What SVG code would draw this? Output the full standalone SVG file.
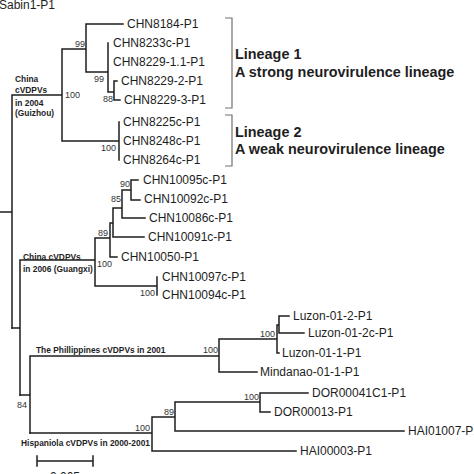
<svg xmlns="http://www.w3.org/2000/svg" width="474" height="474" viewBox="0 0 474 474">
<style>
.e{fill:none;stroke:#1e1e1e;stroke-width:1.5;stroke-linecap:square}
.br{fill:none;stroke:#707070;stroke-width:1.2}
.t{font-family:"Liberation Sans",Arial,sans-serif;font-size:12px;fill:#1e1e1e}
.b{font-family:"Liberation Sans",Arial,sans-serif;font-size:9px;fill:#333}
.bs{font-family:"Liberation Sans",Arial,sans-serif;font-size:9px;fill:#333;text-anchor:end}
.c{font-family:"Liberation Sans",Arial,sans-serif;font-size:8.4px;font-weight:bold;fill:#1e1e1e}
.L{font-family:"Liberation Sans",Arial,sans-serif;font-size:14.4px;font-weight:bold;fill:#1e1e1e}
</style>
<rect width="474" height="474" fill="#fff"/>
<g id="connectors">
<path class="e" d="M0,212H12M12,95V328M12,95H62M62,49V141M62,49H86M86,24V72M86,24H123M86,72H108M108,43V92M108,92H114M114,81V100M114,81H117M114,100H120M62,141H119M119,122V160"/>
<path class="e" d="M12,328H20M20,260V395M20,260H95M95,238V286M95,238H110M110,223V257M110,257H117M110,223H113M113,208V237M113,237H144M113,208H122M122,190V218M122,218H145M122,190H131M131,180V200M131,180H138M131,200H140M95,286H157M157,277V295"/>
<path class="e" d="M20,395H30M30,356V433M30,356H219M219,339V372M219,372H257M219,339H277M277,325V353M277,353H279M277,325H279M279,316V333M279,316H289M279,333H304"/>
<path class="e" d="M30,433H152M152,417V451M152,451H296M152,417H175M175,402V431M175,431H404M175,402H260M260,393V412M260,393H308M260,412H270"/>
<path class="e" d="M37,461H93M37,456V466M93,456V466"/>
</g>
<g id="brackets">
<path class="br" d="M225,18H232V108H225M225,115H232V166H225"/>
</g>
<g id="tips">
<text class="t" x="-1" y="9">Sabin1-P1</text>
<text class="t" x="127" y="28.3">CHN8184-P1</text>
<text class="t" x="113" y="47.3">CHN8233c-P1</text>
<text class="t" x="113" y="66.3">CHN8229-1.1-P1</text>
<text class="t" x="121" y="85.3">CHN8229-2-P1</text>
<text class="t" x="124" y="104.3">CHN8229-3-P1</text>
<text class="t" x="123" y="126.3">CHN8225c-P1</text>
<text class="t" x="123" y="145.3">CHN8248c-P1</text>
<text class="t" x="123" y="164.3">CHN8264c-P1</text>
<text class="t" x="143" y="184.3">CHN10095c-P1</text>
<text class="t" x="144" y="203.3">CHN10092c-P1</text>
<text class="t" x="149" y="222.3">CHN10086c-P1</text>
<text class="t" x="148" y="241.3">CHN10091c-P1</text>
<text class="t" x="121" y="261.3">CHN10050-P1</text>
<text class="t" x="162" y="281.3">CHN10097c-P1</text>
<text class="t" x="162" y="299.3">CHN10094c-P1</text>
<text class="t" x="293" y="320.3">Luzon-01-2-P1</text>
<text class="t" x="308" y="337.3">Luzon-01-2c-P1</text>
<text class="t" x="282" y="357.3">Luzon-01-1-P1</text>
<text class="t" x="260" y="376.3">Mindanao-01-1-P1</text>
<text class="t" x="312" y="397.3">DOR00041C1-P1</text>
<text class="t" x="274" y="416.3">DOR00013-P1</text>
<text class="t" x="408" y="435.3">HAI01007-P1</text>
<text class="t" x="300" y="455.3">HAI00003-P1</text>
</g>
<g id="support">
<text class="bs" x="85" y="47">99</text>
<text class="b" x="65" y="98">100</text>
<text class="bs" x="104" y="82">99</text>
<text class="bs" x="113" y="102">88</text>
<text class="bs" x="116" y="151">100</text>
<text class="bs" x="130" y="187">90</text>
<text class="bs" x="121" y="202">85</text>
<text class="bs" x="108" y="236">89</text>
<text class="b" x="97" y="267">100</text>
<text class="bs" x="155" y="296">100</text>
<text class="bs" x="218" y="353">100</text>
<text class="bs" x="275" y="337">100</text>
<text class="b" x="17" y="408">84</text>
<text class="bs" x="150" y="431">100</text>
<text class="bs" x="174" y="415">89</text>
<text class="bs" x="259" y="400">100</text>
</g>
<g id="clade-labels">
<text class="c" x="15" y="82">China</text>
<text class="c" x="15" y="92.5">cVDPVs</text>
<text class="c" x="15" y="105.5">in 2004</text>
<text class="c" x="15" y="116">(Guizhou)</text>
<text class="c" x="23" y="260">China cVDPVs</text>
<text class="c" x="23" y="272">in 2006 (Guangxi)</text>
<text class="c" x="36" y="353">The Phillippines cVDPVs in 2001</text>
<text class="c" x="21" y="446">Hispaniola cVDPVs in 2000-2001</text>
</g>
<g id="lineages">
<text class="L" x="235" y="59">Lineage 1</text>
<text class="L" x="235" y="77">A strong neurovirulence lineage</text>
<text class="L" x="235" y="137">Lineage 2</text>
<text class="L" x="235" y="154">A weak neurovirulence lineage</text>
</g>
<g id="scale">
<text class="t" x="65" y="481" text-anchor="middle">0.005</text>
</g>
</svg>
